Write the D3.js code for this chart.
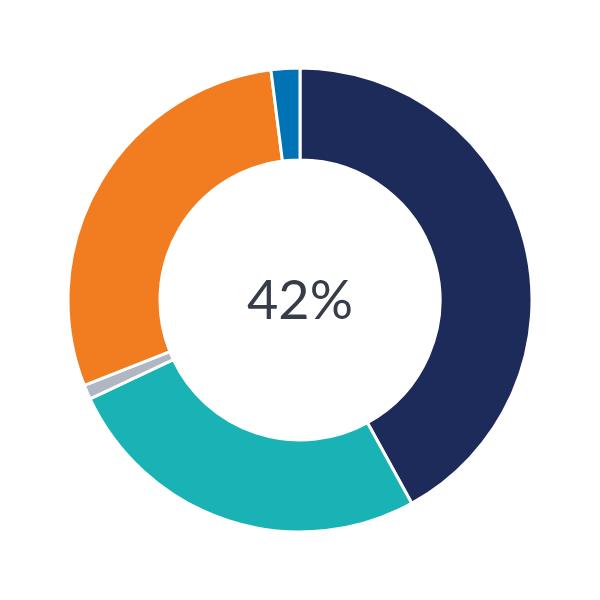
<!DOCTYPE html>
<html>
<head>
<meta charset="utf-8">
<script src="https://cdn.jsdelivr.net/npm/d3@7"></script>
<style>
  body { margin: 0; background: #fff; }
</style>
</head>
<body>
<div id="chart"></div>
<script>
// donut chart data
const categories = ["A", "B", "C", "D", "E"];
const values = [42, 26, 1, 29, 2];
const colors = ["#1c2b5a", "#1ab3b5", "#b0b7c3", "#f27d20", "#0073b5"];
const centerLabel = "42%";

const width = 600;
const height = 600;
const outerRadius = 232;
const innerRadius = 140;

const data = categories.map((c, i) => ({ name: c, value: values[i], color: colors[i] }));

const pie = d3.pie()
  .value(d => d.value)
  .sort(null);

const arc = d3.arc()
  .innerRadius(innerRadius)
  .outerRadius(outerRadius);

const svg = d3.select("#chart").append("svg")
  .attr("width", width)
  .attr("height", height);

const g = svg.append("g")
  .attr("transform", `translate(${width / 2},${height / 2})`);

g.selectAll("path")
  .data(pie(data))
  .join("path")
    .attr("d", arc)
    .attr("fill", d => d.data.color)
    .attr("stroke", "#fff")
    .attr("stroke-width", 3);

g.append("text")
  .attr("text-anchor", "middle")
  .attr("dy", "0.35em")
  .attr("font-family", "Lato, sans-serif")
  .attr("font-size", 54)
  .attr("fill", "#363d48")
  .text(centerLabel);
</script>
</body>
</html>
